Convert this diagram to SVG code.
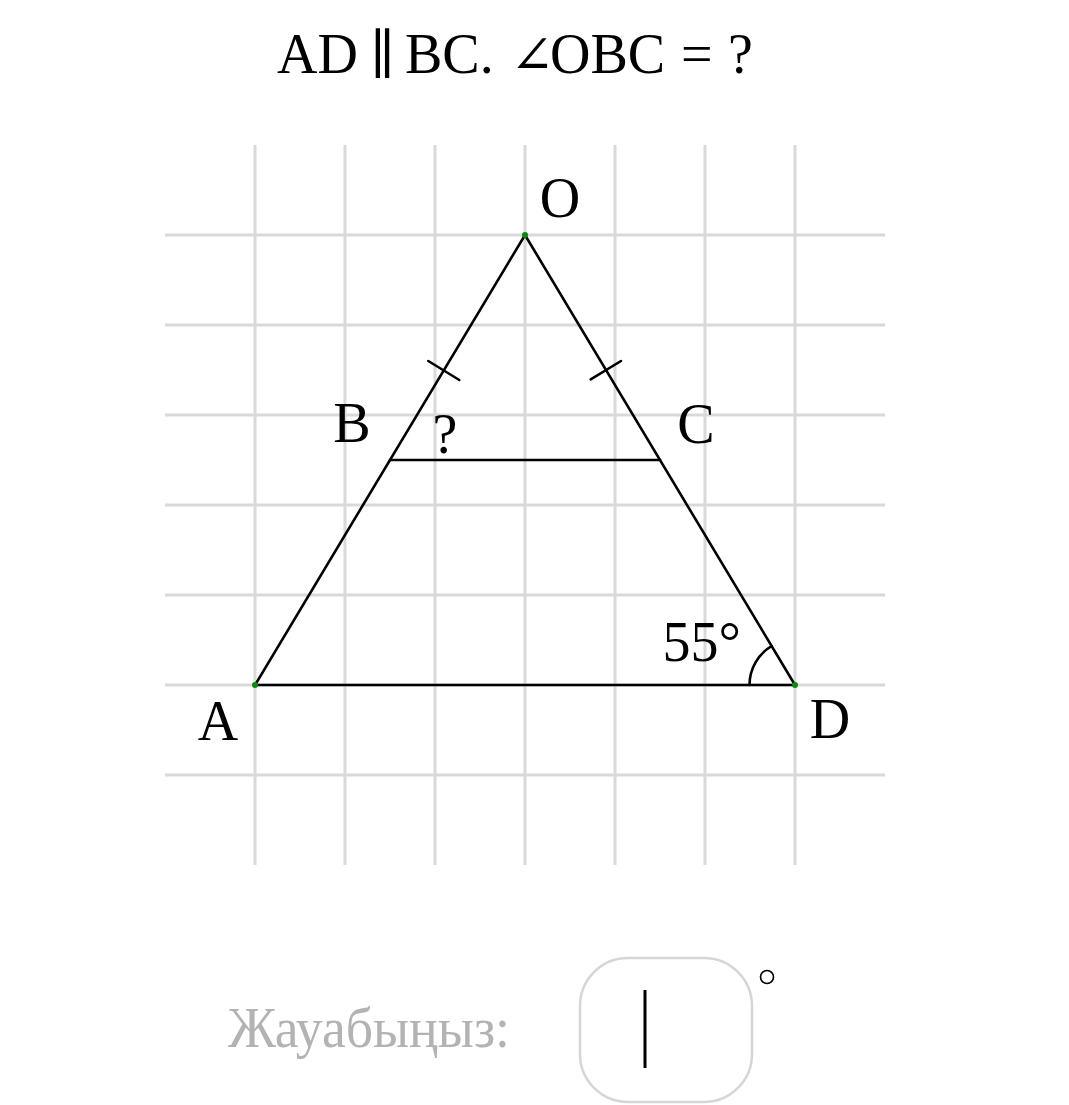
<svg xmlns="http://www.w3.org/2000/svg" width="1069" height="1105" viewBox="0 0 1069 1105">
<style>
.grid line{stroke:#d9d9d9;stroke-width:3}
.fig{stroke:#000;stroke-width:2.6;fill:none;stroke-linecap:round}
.lbl{font-family:"Liberation Serif","DejaVu Serif",serif;font-size:56px;fill:#000}
.pt{fill:#0a8a0a}
</style>
<rect width="1069" height="1105" fill="#fff"/>
<g id="title">
<text class="lbl" y="73" font-size="57"><tspan x="277">AD</tspan><tspan x="370" font-family="DejaVu Serif,serif" font-size="54">∥</tspan><tspan x="405">BC.</tspan><tspan x="510" font-family="DejaVu Serif,serif" font-size="53">∠</tspan><tspan x="550">OBC</tspan><tspan x="681">=</tspan><tspan x="728">?</tspan></text>
</g>
<g id="grid" class="grid">
<line x1="255" y1="145" x2="255" y2="865"/>
<line x1="345" y1="145" x2="345" y2="865"/>
<line x1="435" y1="145" x2="435" y2="865"/>
<line x1="525" y1="145" x2="525" y2="865"/>
<line x1="615" y1="145" x2="615" y2="865"/>
<line x1="705" y1="145" x2="705" y2="865"/>
<line x1="795" y1="145" x2="795" y2="865"/>
<line x1="165" y1="235" x2="885" y2="235"/>
<line x1="165" y1="325" x2="885" y2="325"/>
<line x1="165" y1="415" x2="885" y2="415"/>
<line x1="165" y1="505" x2="885" y2="505"/>
<line x1="165" y1="595" x2="885" y2="595"/>
<line x1="165" y1="685" x2="885" y2="685"/>
<line x1="165" y1="775" x2="885" y2="775"/>
</g>
<g id="connectors" class="fig">
<line x1="525" y1="235" x2="255" y2="685"/>
<line x1="525" y1="235" x2="795" y2="685"/>
<line x1="255" y1="685" x2="795" y2="685"/>
<line x1="390" y1="460" x2="660" y2="460"/>
<line x1="428.3" y1="361" x2="459.3" y2="380"/>
<line x1="590.7" y1="379.3" x2="621" y2="361"/>
<path d="M749.5 685 A45.5 45.5 0 0 1 771.6 646"/>
</g>
<g id="node-O"><circle class="pt" cx="525" cy="235" r="3"/><text class="lbl" x="560" y="217" text-anchor="middle">O</text></g>
<g id="node-A"><circle class="pt" cx="255" cy="685" r="3"/><text class="lbl" x="218" y="740" text-anchor="middle">A</text></g>
<g id="node-D"><circle class="pt" cx="795" cy="685" r="3"/><text class="lbl" x="830" y="738" text-anchor="middle">D</text></g>
<g id="node-B"><text class="lbl" x="352" y="442" text-anchor="middle">B</text></g>
<g id="node-C"><text class="lbl" x="696" y="443" text-anchor="middle">C</text></g>
<g id="label-q"><text class="lbl" x="445" y="453" text-anchor="middle" font-size="52">?</text></g>
<g id="label-55"><text class="lbl" x="741" y="661" text-anchor="end">55°</text></g>
<g id="answer">
<text x="228" y="1047" font-family="Liberation Serif,serif" font-size="56" fill="#b3b3b3" textLength="282" lengthAdjust="spacingAndGlyphs">Жауабыңыз:</text>
<rect x="580" y="958" width="172" height="144" rx="48" ry="48" fill="#fff" stroke="#d6d6d6" stroke-width="2.5"/>
<line x1="645" y1="990" x2="645" y2="1068" stroke="#000" stroke-width="3"/>
<circle cx="767" cy="977" r="6.5" fill="none" stroke="#000" stroke-width="1.6"/>
</g>
</svg>
